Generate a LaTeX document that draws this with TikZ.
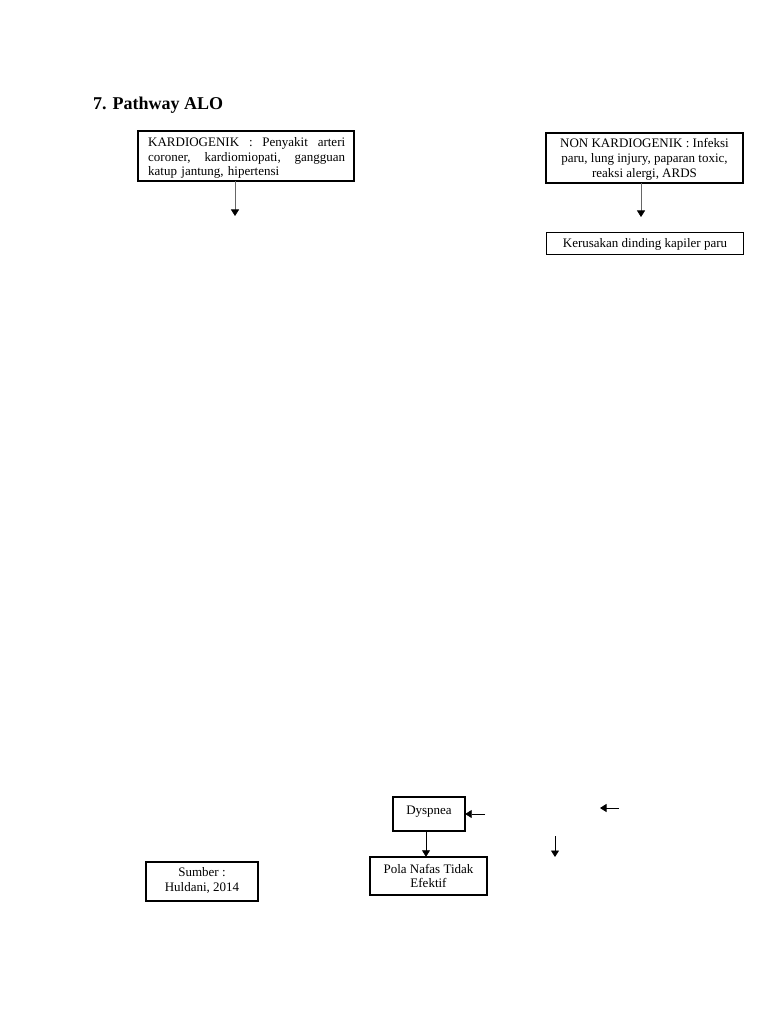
\documentclass[tikz,border=0pt]{standalone}
\usepackage{fontspec}
\setmainfont{Liberation Serif}
\usetikzlibrary{arrows.meta}
\begin{document}
\begin{tikzpicture}[x=1pt,y=-1pt,
  every node/.style={font=\fontsize{13}{14.6}\selectfont, inner sep=0pt},
  thickbox/.style={draw, line width=1.6pt, outer sep=0pt},
  thinbox/.style={draw, line width=0.9pt, outer sep=0pt},
  arr/.style={draw=black!60, line width=0.6pt, -{Triangle[length=6.5pt,width=8pt,fill=black,color=black]}},
  arrk/.style={draw=black, line width=0.8pt, -{Triangle[length=6.5pt,width=8pt]}}]
\useasboundingbox[fill=white] (0,0) rectangle (768,1024);
% title
\node[anchor=base west, font=\fontsize{18}{21}\selectfont\bfseries] (title) at (93,110) {7. Pathway ALO};
% Kardiogenik
\node[thickbox, minimum width=216.4, minimum height=50.4, anchor=north west] (kard) at (137.8,130.8) {};
\node[anchor=north west, align=left, text width=197] (kardtxt) at (148,137.5) {%
\makebox[197pt]{KARDIOGENIK\hfill:\hfill Penyakit\hfill arteri}\\
\makebox[197pt]{coroner,\hfill kardiomiopati,\hfill gangguan}\\
katup jantung, hipertensi};
\coordinate (kardend) at (235,216);
\draw[arr] (kard.south -| kardend) -- (kardend);
% Non kardiogenik
\node[thickbox, minimum width=197.4, minimum height=50.4, anchor=north west] (non) at (545.8,132.8) {};
\node[anchor=north, align=center] (nontxt) at (644.5,138.5) {NON KARDIOGENIK : Infeksi\\paru, lung injury, paparan toxic,\\reaksi alergi, ARDS};
% Kerusakan
\node[thinbox, minimum width=197.1, minimum height=22.1, anchor=north west] (ker) at (546.45,232.45) {};
\node[anchor=base] (kertxt) at (645,247.5) {Kerusakan dinding kapiler paru};
\coordinate (nonend) at (641,217);
\draw[arr] (non.south -| nonend) -- (nonend);
% Dyspnea
\node[thickbox, minimum width=72.4, minimum height=34.4, anchor=north west] (dys) at (392.8,796.8) {};
\node[anchor=base] (dystxt) at (429,814.5) {Dyspnea};
\coordinate (dysin) at (485,814);
\draw[arrk] (dysin) -- (dys.east |- dysin);
% Pola nafas
\node[thickbox, minimum width=117.4, minimum height=38.4, anchor=north west] (pola) at (369.8,856.8) {};
\node[anchor=north, align=center] (polatxt) at (428.5,864) {Pola Nafas Tidak\\Efektif};
\coordinate (dysx) at (426,0);
\draw[arrk] (dys.south -| dysx) -- (pola.north -| dysx);
% free arrows
\coordinate (fa1) at (619,808);
\coordinate (fa2) at (600,808);
\draw[arrk] (fa1) -- (fa2);
\coordinate (fb1) at (555,836);
\coordinate (fb2) at (555,857);
\draw[arrk] (fb1) -- (fb2);
% Sumber
\node[thickbox, minimum width=112.4, minimum height=39.4, anchor=north west] (sum) at (145.8,861.8) {};
\node[anchor=north, align=center] (sumtxt) at (202,867.5) {Sumber :\\Huldani, 2014};
\end{tikzpicture}
\end{document}
